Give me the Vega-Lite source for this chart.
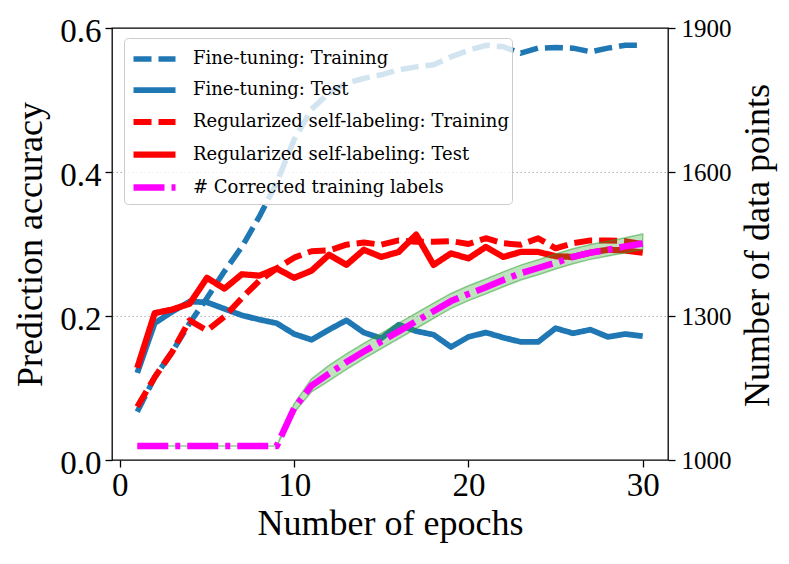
{
  "$schema": "https://vega.github.io/schema/vega-lite/v6.json",
  "width": 556,
  "height": 432,
  "autosize": {"type": "none"},
  "padding": {"left": 112, "top": 28, "right": 121, "bottom": 104},
  "background": "white",
  "config": {
    "font": "Liberation Serif",
    "view": {"stroke": "black", "strokeWidth": 1.3},
    "axis": {
      "domain": false,
      "tickColor": "black",
      "tickWidth": 1.3,
      "tickSize": 7,
      "labelColor": "black",
      "titleColor": "black",
      "labelFont": "Liberation Serif",
      "titleFont": "Liberation Serif",
      "titleFontWeight": "normal",
      "grid": false
    },
    "legend": {
      "title": null,
      "orient": "none", "legendX": 12, "legendY": 10,
      "fillColor": "rgba(255,255,255,0.8)", "strokeColor": "#cccccc", "cornerRadius": 4,
      "padding": 3, "rowPadding": 2,
      "symbolType": "M-1.4,0H1.4", "symbolSize": 900, "symbolStrokeWidth": 5.5, "symbolOffset": 9,
      "labelFont": "DejaVu Serif", "labelColor": "black",
      "labelFontSize": 18, "labelOffset": 20, "labelLimit": 500
    }
  },
  "datasets": {
    "acc": [
      {"series": "Fine-tuning: Training", "epoch": 1, "acc": 0.067},
      {"series": "Fine-tuning: Training", "epoch": 2, "acc": 0.115},
      {"series": "Fine-tuning: Training", "epoch": 3, "acc": 0.150},
      {"series": "Fine-tuning: Training", "epoch": 4, "acc": 0.190},
      {"series": "Fine-tuning: Training", "epoch": 5, "acc": 0.225},
      {"series": "Fine-tuning: Training", "epoch": 6, "acc": 0.262},
      {"series": "Fine-tuning: Training", "epoch": 7, "acc": 0.296},
      {"series": "Fine-tuning: Training", "epoch": 8, "acc": 0.338},
      {"series": "Fine-tuning: Training", "epoch": 9, "acc": 0.385},
      {"series": "Fine-tuning: Training", "epoch": 10, "acc": 0.445},
      {"series": "Fine-tuning: Training", "epoch": 11, "acc": 0.487},
      {"series": "Fine-tuning: Training", "epoch": 12, "acc": 0.510},
      {"series": "Fine-tuning: Training", "epoch": 13, "acc": 0.523},
      {"series": "Fine-tuning: Training", "epoch": 14, "acc": 0.530},
      {"series": "Fine-tuning: Training", "epoch": 15, "acc": 0.535},
      {"series": "Fine-tuning: Training", "epoch": 16, "acc": 0.542},
      {"series": "Fine-tuning: Training", "epoch": 17, "acc": 0.546},
      {"series": "Fine-tuning: Training", "epoch": 18, "acc": 0.549},
      {"series": "Fine-tuning: Training", "epoch": 19, "acc": 0.560},
      {"series": "Fine-tuning: Training", "epoch": 20, "acc": 0.569},
      {"series": "Fine-tuning: Training", "epoch": 21, "acc": 0.576},
      {"series": "Fine-tuning: Training", "epoch": 22, "acc": 0.574},
      {"series": "Fine-tuning: Training", "epoch": 23, "acc": 0.565},
      {"series": "Fine-tuning: Training", "epoch": 24, "acc": 0.572},
      {"series": "Fine-tuning: Training", "epoch": 25, "acc": 0.573},
      {"series": "Fine-tuning: Training", "epoch": 26, "acc": 0.572},
      {"series": "Fine-tuning: Training", "epoch": 27, "acc": 0.567},
      {"series": "Fine-tuning: Training", "epoch": 28, "acc": 0.572},
      {"series": "Fine-tuning: Training", "epoch": 29, "acc": 0.576},
      {"series": "Fine-tuning: Training", "epoch": 30, "acc": 0.576},
      {"series": "Fine-tuning: Test", "epoch": 1, "acc": 0.121},
      {"series": "Fine-tuning: Test", "epoch": 2, "acc": 0.190},
      {"series": "Fine-tuning: Test", "epoch": 3, "acc": 0.206},
      {"series": "Fine-tuning: Test", "epoch": 4, "acc": 0.220},
      {"series": "Fine-tuning: Test", "epoch": 5, "acc": 0.219},
      {"series": "Fine-tuning: Test", "epoch": 6, "acc": 0.210},
      {"series": "Fine-tuning: Test", "epoch": 7, "acc": 0.201},
      {"series": "Fine-tuning: Test", "epoch": 8, "acc": 0.195},
      {"series": "Fine-tuning: Test", "epoch": 9, "acc": 0.190},
      {"series": "Fine-tuning: Test", "epoch": 10, "acc": 0.175},
      {"series": "Fine-tuning: Test", "epoch": 11, "acc": 0.167},
      {"series": "Fine-tuning: Test", "epoch": 12, "acc": 0.181},
      {"series": "Fine-tuning: Test", "epoch": 13, "acc": 0.194},
      {"series": "Fine-tuning: Test", "epoch": 14, "acc": 0.177},
      {"series": "Fine-tuning: Test", "epoch": 15, "acc": 0.169},
      {"series": "Fine-tuning: Test", "epoch": 16, "acc": 0.188},
      {"series": "Fine-tuning: Test", "epoch": 17, "acc": 0.179},
      {"series": "Fine-tuning: Test", "epoch": 18, "acc": 0.174},
      {"series": "Fine-tuning: Test", "epoch": 19, "acc": 0.157},
      {"series": "Fine-tuning: Test", "epoch": 20, "acc": 0.171},
      {"series": "Fine-tuning: Test", "epoch": 21, "acc": 0.177},
      {"series": "Fine-tuning: Test", "epoch": 22, "acc": 0.170},
      {"series": "Fine-tuning: Test", "epoch": 23, "acc": 0.164},
      {"series": "Fine-tuning: Test", "epoch": 24, "acc": 0.164},
      {"series": "Fine-tuning: Test", "epoch": 25, "acc": 0.183},
      {"series": "Fine-tuning: Test", "epoch": 26, "acc": 0.176},
      {"series": "Fine-tuning: Test", "epoch": 27, "acc": 0.181},
      {"series": "Fine-tuning: Test", "epoch": 28, "acc": 0.171},
      {"series": "Fine-tuning: Test", "epoch": 29, "acc": 0.175},
      {"series": "Fine-tuning: Test", "epoch": 30, "acc": 0.172},
      {"series": "Regularized self-labeling: Training", "epoch": 1, "acc": 0.074},
      {"series": "Regularized self-labeling: Training", "epoch": 2, "acc": 0.115},
      {"series": "Regularized self-labeling: Training", "epoch": 3, "acc": 0.150},
      {"series": "Regularized self-labeling: Training", "epoch": 4, "acc": 0.194},
      {"series": "Regularized self-labeling: Training", "epoch": 5, "acc": 0.180},
      {"series": "Regularized self-labeling: Training", "epoch": 6, "acc": 0.199},
      {"series": "Regularized self-labeling: Training", "epoch": 7, "acc": 0.225},
      {"series": "Regularized self-labeling: Training", "epoch": 8, "acc": 0.249},
      {"series": "Regularized self-labeling: Training", "epoch": 9, "acc": 0.266},
      {"series": "Regularized self-labeling: Training", "epoch": 10, "acc": 0.281},
      {"series": "Regularized self-labeling: Training", "epoch": 11, "acc": 0.290},
      {"series": "Regularized self-labeling: Training", "epoch": 12, "acc": 0.291},
      {"series": "Regularized self-labeling: Training", "epoch": 13, "acc": 0.299},
      {"series": "Regularized self-labeling: Training", "epoch": 14, "acc": 0.302},
      {"series": "Regularized self-labeling: Training", "epoch": 15, "acc": 0.299},
      {"series": "Regularized self-labeling: Training", "epoch": 16, "acc": 0.305},
      {"series": "Regularized self-labeling: Training", "epoch": 17, "acc": 0.303},
      {"series": "Regularized self-labeling: Training", "epoch": 18, "acc": 0.303},
      {"series": "Regularized self-labeling: Training", "epoch": 19, "acc": 0.304},
      {"series": "Regularized self-labeling: Training", "epoch": 20, "acc": 0.300},
      {"series": "Regularized self-labeling: Training", "epoch": 21, "acc": 0.308},
      {"series": "Regularized self-labeling: Training", "epoch": 22, "acc": 0.301},
      {"series": "Regularized self-labeling: Training", "epoch": 23, "acc": 0.299},
      {"series": "Regularized self-labeling: Training", "epoch": 24, "acc": 0.308},
      {"series": "Regularized self-labeling: Training", "epoch": 25, "acc": 0.294},
      {"series": "Regularized self-labeling: Training", "epoch": 26, "acc": 0.301},
      {"series": "Regularized self-labeling: Training", "epoch": 27, "acc": 0.305},
      {"series": "Regularized self-labeling: Training", "epoch": 28, "acc": 0.305},
      {"series": "Regularized self-labeling: Training", "epoch": 29, "acc": 0.304},
      {"series": "Regularized self-labeling: Training", "epoch": 30, "acc": 0.300},
      {"series": "Regularized self-labeling: Test", "epoch": 1, "acc": 0.128},
      {"series": "Regularized self-labeling: Test", "epoch": 2, "acc": 0.204},
      {"series": "Regularized self-labeling: Test", "epoch": 3, "acc": 0.209},
      {"series": "Regularized self-labeling: Test", "epoch": 4, "acc": 0.217},
      {"series": "Regularized self-labeling: Test", "epoch": 5, "acc": 0.253},
      {"series": "Regularized self-labeling: Test", "epoch": 6, "acc": 0.238},
      {"series": "Regularized self-labeling: Test", "epoch": 7, "acc": 0.258},
      {"series": "Regularized self-labeling: Test", "epoch": 8, "acc": 0.256},
      {"series": "Regularized self-labeling: Test", "epoch": 9, "acc": 0.266},
      {"series": "Regularized self-labeling: Test", "epoch": 10, "acc": 0.253},
      {"series": "Regularized self-labeling: Test", "epoch": 11, "acc": 0.263},
      {"series": "Regularized self-labeling: Test", "epoch": 12, "acc": 0.285},
      {"series": "Regularized self-labeling: Test", "epoch": 13, "acc": 0.271},
      {"series": "Regularized self-labeling: Test", "epoch": 14, "acc": 0.292},
      {"series": "Regularized self-labeling: Test", "epoch": 15, "acc": 0.282},
      {"series": "Regularized self-labeling: Test", "epoch": 16, "acc": 0.289},
      {"series": "Regularized self-labeling: Test", "epoch": 17, "acc": 0.313},
      {"series": "Regularized self-labeling: Test", "epoch": 18, "acc": 0.271},
      {"series": "Regularized self-labeling: Test", "epoch": 19, "acc": 0.287},
      {"series": "Regularized self-labeling: Test", "epoch": 20, "acc": 0.280},
      {"series": "Regularized self-labeling: Test", "epoch": 21, "acc": 0.296},
      {"series": "Regularized self-labeling: Test", "epoch": 22, "acc": 0.282},
      {"series": "Regularized self-labeling: Test", "epoch": 23, "acc": 0.289},
      {"series": "Regularized self-labeling: Test", "epoch": 24, "acc": 0.289},
      {"series": "Regularized self-labeling: Test", "epoch": 25, "acc": 0.283},
      {"series": "Regularized self-labeling: Test", "epoch": 26, "acc": 0.282},
      {"series": "Regularized self-labeling: Test", "epoch": 27, "acc": 0.288},
      {"series": "Regularized self-labeling: Test", "epoch": 28, "acc": 0.292},
      {"series": "Regularized self-labeling: Test", "epoch": 29, "acc": 0.291},
      {"series": "Regularized self-labeling: Test", "epoch": 30, "acc": 0.288}
    ],
    "corrected": [
      {"series": "# Corrected training labels", "epoch": 1, "n": 1029, "lo": 1029, "hi": 1029},
      {"series": "# Corrected training labels", "epoch": 2, "n": 1029, "lo": 1029, "hi": 1029},
      {"series": "# Corrected training labels", "epoch": 3, "n": 1029, "lo": 1029, "hi": 1029},
      {"series": "# Corrected training labels", "epoch": 4, "n": 1029, "lo": 1029, "hi": 1029},
      {"series": "# Corrected training labels", "epoch": 5, "n": 1029, "lo": 1029, "hi": 1029},
      {"series": "# Corrected training labels", "epoch": 6, "n": 1029, "lo": 1029, "hi": 1029},
      {"series": "# Corrected training labels", "epoch": 7, "n": 1029, "lo": 1029, "hi": 1029},
      {"series": "# Corrected training labels", "epoch": 8, "n": 1029, "lo": 1029, "hi": 1029},
      {"series": "# Corrected training labels", "epoch": 9, "n": 1029, "lo": 1029, "hi": 1029},
      {"series": "# Corrected training labels", "epoch": 10, "n": 1108, "lo": 1099, "hi": 1117},
      {"series": "# Corrected training labels", "epoch": 11, "n": 1155, "lo": 1142, "hi": 1169},
      {"series": "# Corrected training labels", "epoch": 12, "n": 1180, "lo": 1165, "hi": 1197},
      {"series": "# Corrected training labels", "epoch": 13, "n": 1204, "lo": 1189, "hi": 1221},
      {"series": "# Corrected training labels", "epoch": 14, "n": 1226, "lo": 1211, "hi": 1243},
      {"series": "# Corrected training labels", "epoch": 15, "n": 1247, "lo": 1232, "hi": 1264},
      {"series": "# Corrected training labels", "epoch": 16, "n": 1268, "lo": 1253, "hi": 1285},
      {"series": "# Corrected training labels", "epoch": 17, "n": 1289, "lo": 1274, "hi": 1306},
      {"series": "# Corrected training labels", "epoch": 18, "n": 1310, "lo": 1295, "hi": 1327},
      {"series": "# Corrected training labels", "epoch": 19, "n": 1331, "lo": 1316, "hi": 1347},
      {"series": "# Corrected training labels", "epoch": 20, "n": 1346, "lo": 1332, "hi": 1363},
      {"series": "# Corrected training labels", "epoch": 21, "n": 1360, "lo": 1346, "hi": 1377},
      {"series": "# Corrected training labels", "epoch": 22, "n": 1375, "lo": 1361, "hi": 1392},
      {"series": "# Corrected training labels", "epoch": 23, "n": 1389, "lo": 1375, "hi": 1406},
      {"series": "# Corrected training labels", "epoch": 24, "n": 1400, "lo": 1386, "hi": 1417},
      {"series": "# Corrected training labels", "epoch": 25, "n": 1411, "lo": 1398, "hi": 1429},
      {"series": "# Corrected training labels", "epoch": 26, "n": 1423, "lo": 1409, "hi": 1440},
      {"series": "# Corrected training labels", "epoch": 27, "n": 1432, "lo": 1418, "hi": 1449},
      {"series": "# Corrected training labels", "epoch": 28, "n": 1438, "lo": 1425, "hi": 1456},
      {"series": "# Corrected training labels", "epoch": 29, "n": 1445, "lo": 1432, "hi": 1463},
      {"series": "# Corrected training labels", "epoch": 30, "n": 1451, "lo": 1439, "hi": 1471}
    ]
  },
  "layer": [
    {
      "data": {"name": "acc"},
      "mark": {"type": "line", "strokeJoin": "round"},
      "encoding": {
        "x": {
          "field": "epoch", "type": "quantitative",
          "scale": {"domain": [-0.45, 31.45], "nice": false, "zero": false},
          "axis": {
            "values": [0, 10, 20, 30], "format": "d",
            "labelFontSize": 33, "labelPadding": 2, "labelAngle": 0,
            "title": "Number of epochs", "titleFontSize": 36, "titlePadding": 4
          }
        },
        "y": {
          "field": "acc", "type": "quantitative",
          "scale": {"domain": [0, 0.6], "nice": false, "zero": false},
          "axis": {
            "orient": "left",
            "values": [0, 0.2, 0.4, 0.6], "format": ".1f",
            "labelFontSize": 33, "labelPadding": 4, "labelOffset": 3,
            "title": "Prediction accuracy", "titleFontSize": 36, "titlePadding": 10,
            "grid": true, "gridColor": "#b0b0b0", "gridDash": [1.5, 2.5], "gridWidth": 1,
            "gridOpacity": {"condition": {"test": "datum.value < 0.1 || datum.value > 0.5", "value": 0}, "value": 1}
          }
        },
        "color": {
          "field": "series", "type": "nominal",
          "scale": {
            "domain": ["Fine-tuning: Training", "Fine-tuning: Test", "Regularized self-labeling: Training", "Regularized self-labeling: Test", "# Corrected training labels"],
            "range": ["#1f77b4", "#1f77b4", "#ff0000", "#ff0000", "#ff00ff"]
          },
          "legend": {"title": null}
        },
        "strokeDash": {
          "field": "series", "type": "nominal",
          "scale": {
            "domain": ["Fine-tuning: Training", "Fine-tuning: Test", "Regularized self-labeling: Training", "Regularized self-labeling: Test", "# Corrected training labels"],
            "range": [[18, 7], [1, 0], [18, 7], [1, 0], [31, 7, 5, 7]]
          },
          "legend": {"title": null}
        },
        "strokeWidth": {
          "field": "series", "type": "nominal",
          "scale": {
            "domain": ["Fine-tuning: Training", "Fine-tuning: Test", "Regularized self-labeling: Training", "Regularized self-labeling: Test", "# Corrected training labels"],
            "range": [5.5, 6.5, 5.5, 6.5, 5.5]
          },
          "legend": null
        }
      }
    },
    {
      "data": {"name": "corrected"},
      "layer": [
        {
          "mark": {"type": "area", "fill": "#2ca02c", "fillOpacity": 0.3, "stroke": "#2ca02c", "strokeOpacity": 0.5, "strokeWidth": 1.5},
          "encoding": {
            "x": {"field": "epoch", "type": "quantitative"},
            "y": {"field": "lo", "type": "quantitative"},
            "y2": {"field": "hi"}
          }
        },
        {
          "mark": {"type": "line", "strokeJoin": "round"},
          "encoding": {
            "x": {"field": "epoch", "type": "quantitative"},
            "y": {
              "field": "n", "type": "quantitative",
              "scale": {"domain": [1000, 1900], "nice": false, "zero": false},
              "axis": {
                "orient": "right",
                "values": [1000, 1300, 1600, 1900], "format": "d",
                "labelFontSize": 25, "labelPadding": 6,
                "title": "Number of data points", "titleFontSize": 36,
                "titleAngle": 270, "titleBaseline": "middle", "titleAlign": "center",
                "titleX": 89, "titleY": 217
              }
            },
            "color": {"field": "series", "type": "nominal"},
            "strokeDash": {"field": "series", "type": "nominal"},
            "strokeWidth": {"field": "series", "type": "nominal", "legend": null}
          }
        }
      ]
    }
  ],
  "resolve": {"scale": {"y": "independent"}}
}
